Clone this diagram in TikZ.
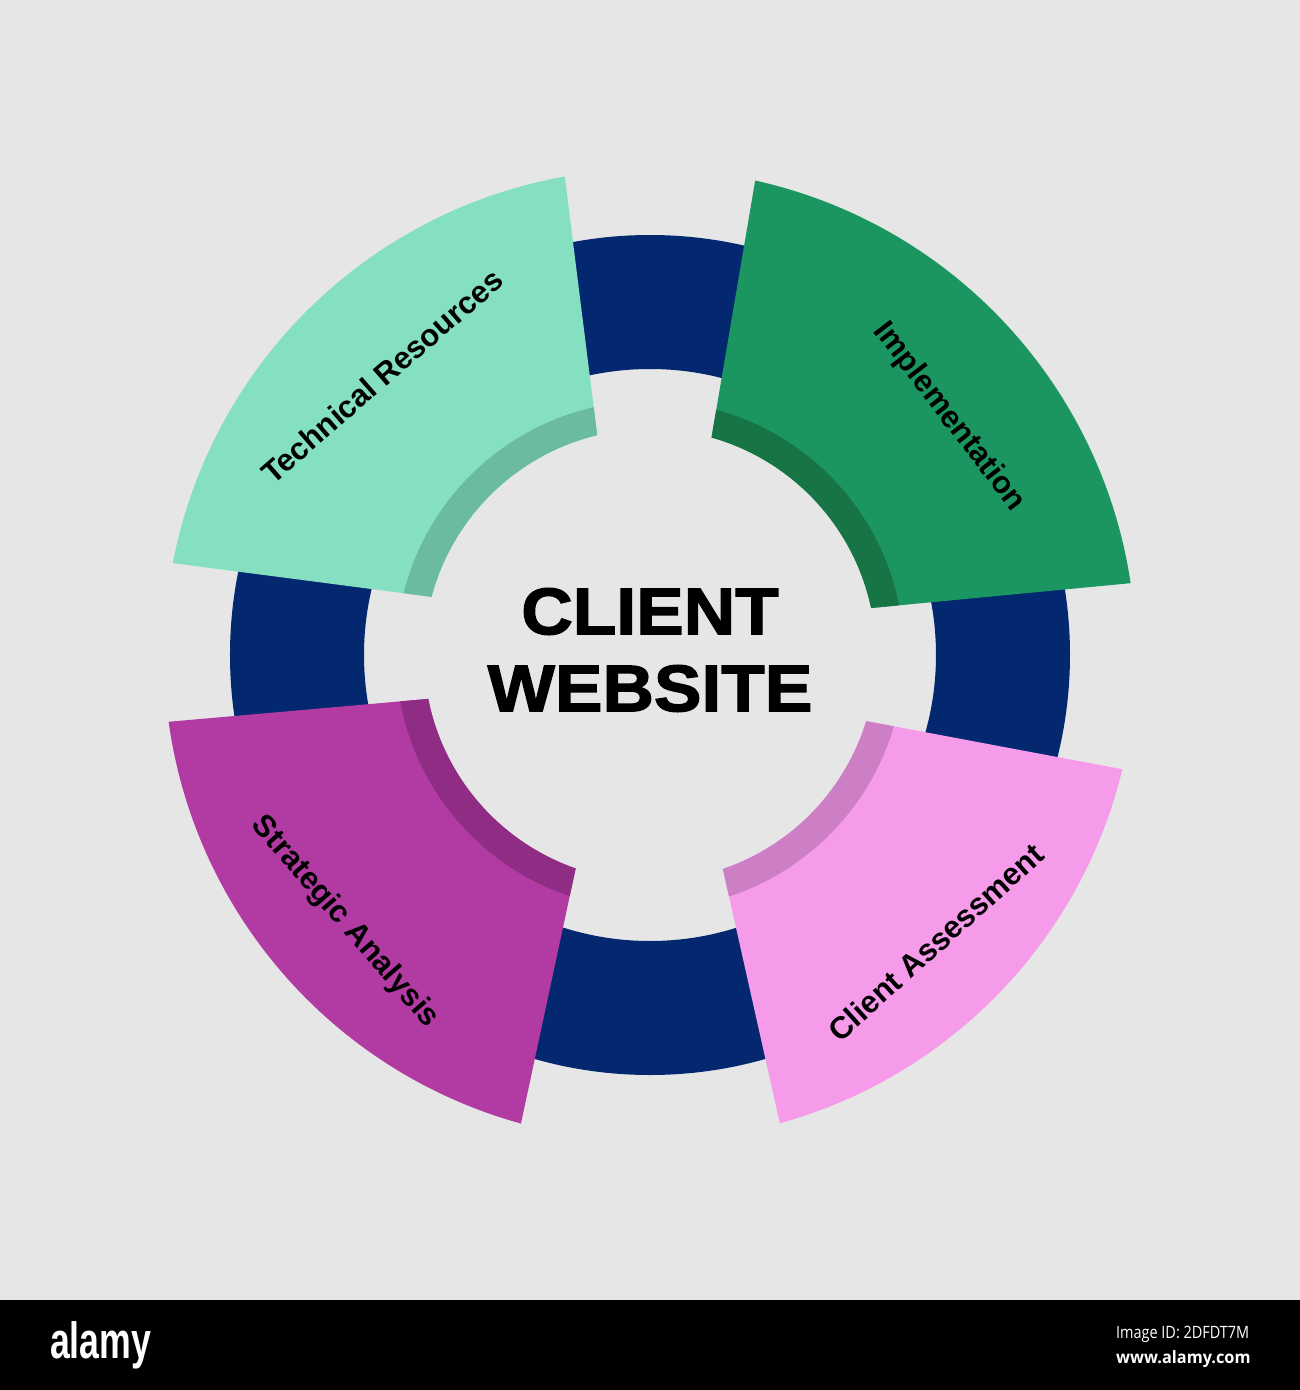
\documentclass[tikz,border=0pt]{standalone}
\usepackage{fontspec}
\setmainfont{Liberation Sans}
\newfontfamily\titlefont[FakeStretch=1.08, BoldFeatures={FakeBold=2}]{Liberation Sans}
\newfontfamily\footfont{Open Sans}
\usetikzlibrary{positioning}
\definecolor{paper}{RGB}{230,230,230}
\definecolor{ringblue}{RGB}{3,40,112}
\definecolor{mint}{RGB}{132,224,192}
\definecolor{mintdark}{RGB}{107,187,159}
\definecolor{leaf}{RGB}{28,150,96}
\definecolor{leafdark}{RGB}{22,116,69}
\definecolor{plum}{RGB}{178,58,163}
\definecolor{plumdark}{RGB}{143,45,133}
\definecolor{rose}{RGB}{245,155,234}
\definecolor{rosedark}{RGB}{204,127,197}
\tikzset{
	stagetext/.style= {
		font=\bfseries\fontsize{31}{31}\selectfont,
		inner sep=0
	},
	heading/.style= {
		font=\titlefont\bfseries\fontsize{66}{77}\selectfont,
		align=center,
		inner sep=0
	},
	footer/.style= {
		white,
		inner sep=0,
		anchor=base west
	},
}

\begin{document}
\begin{tikzpicture}[x=1pt, y=1pt]

	\fill[paper] (-650,655) rectangle (650,-735);
	\useasboundingbox (-650,655) rectangle (650,-735);

	% ring
	\fill[ringblue, even odd rule] (0,0) circle[radius=420] (0,0) circle[radius=286];

	\foreach[count=\i from 1] \ai/\bi/\ao/\bo/\col/\shadecol in
		{103.5/165.1/100.1/169.1/mint/mintdark,
		 12.0/74.2/8.5/77.5/leaf/leafdark,
		 191.2/250.8/187.9/254.6/plum/plumdark,
		 288.8/343.0/285.5/346.4/rose/rosedark}
	{
		\fill[\col] (\ai:226) arc[start angle=\ai, end angle=\bi, radius=226]
			-- (\bo:486) arc[start angle=\bo, end angle=\ao, radius=486] -- cycle;
		\begin{scope}
			\clip (\ai:226) arc[start angle=\ai, end angle=\bi, radius=226]
				-- (\bo:486) arc[start angle=\bo, end angle=\ao, radius=486] -- cycle;
			\fill[\shadecol, even odd rule] (0,0) circle[radius=254] (0,0) circle[radius=226];
		\end{scope}
	}

	\node (tech)[stagetext, rotate=41] at (-268,279) {Technical Resources};
	\node (impl)[stagetext, rotate=-52.5] at (299,238) {Implementation};
	\node (strat)[stagetext, rotate=-49] at (-305,-267) {Strategic Analysis};
	\node (assess)[stagetext, rotate=42] at (286,-287) {Client Assessment};

	\node (title)[heading] at (0,5) {CLIENT\\WEBSITE};

	% footer bar
	\fill[black] (-650,-645) rectangle (650,-735);
	\node (logo)[footer, font=\bfseries\fontsize{51}{51}\selectfont, xscale=0.7] at (-600,-703) {alamy};
	\node (imageid)[footer, font=\footfont\fontsize{17}{17}\selectfont, xscale=0.85] at (466,-683) {Image ID: 2DFDT7M};
	\node (site)[footer, font=\footfont\bfseries\fontsize{17}{17}\selectfont, xscale=0.96] at (466,-708) {www.alamy.com};

\end{tikzpicture}
\end{document}
